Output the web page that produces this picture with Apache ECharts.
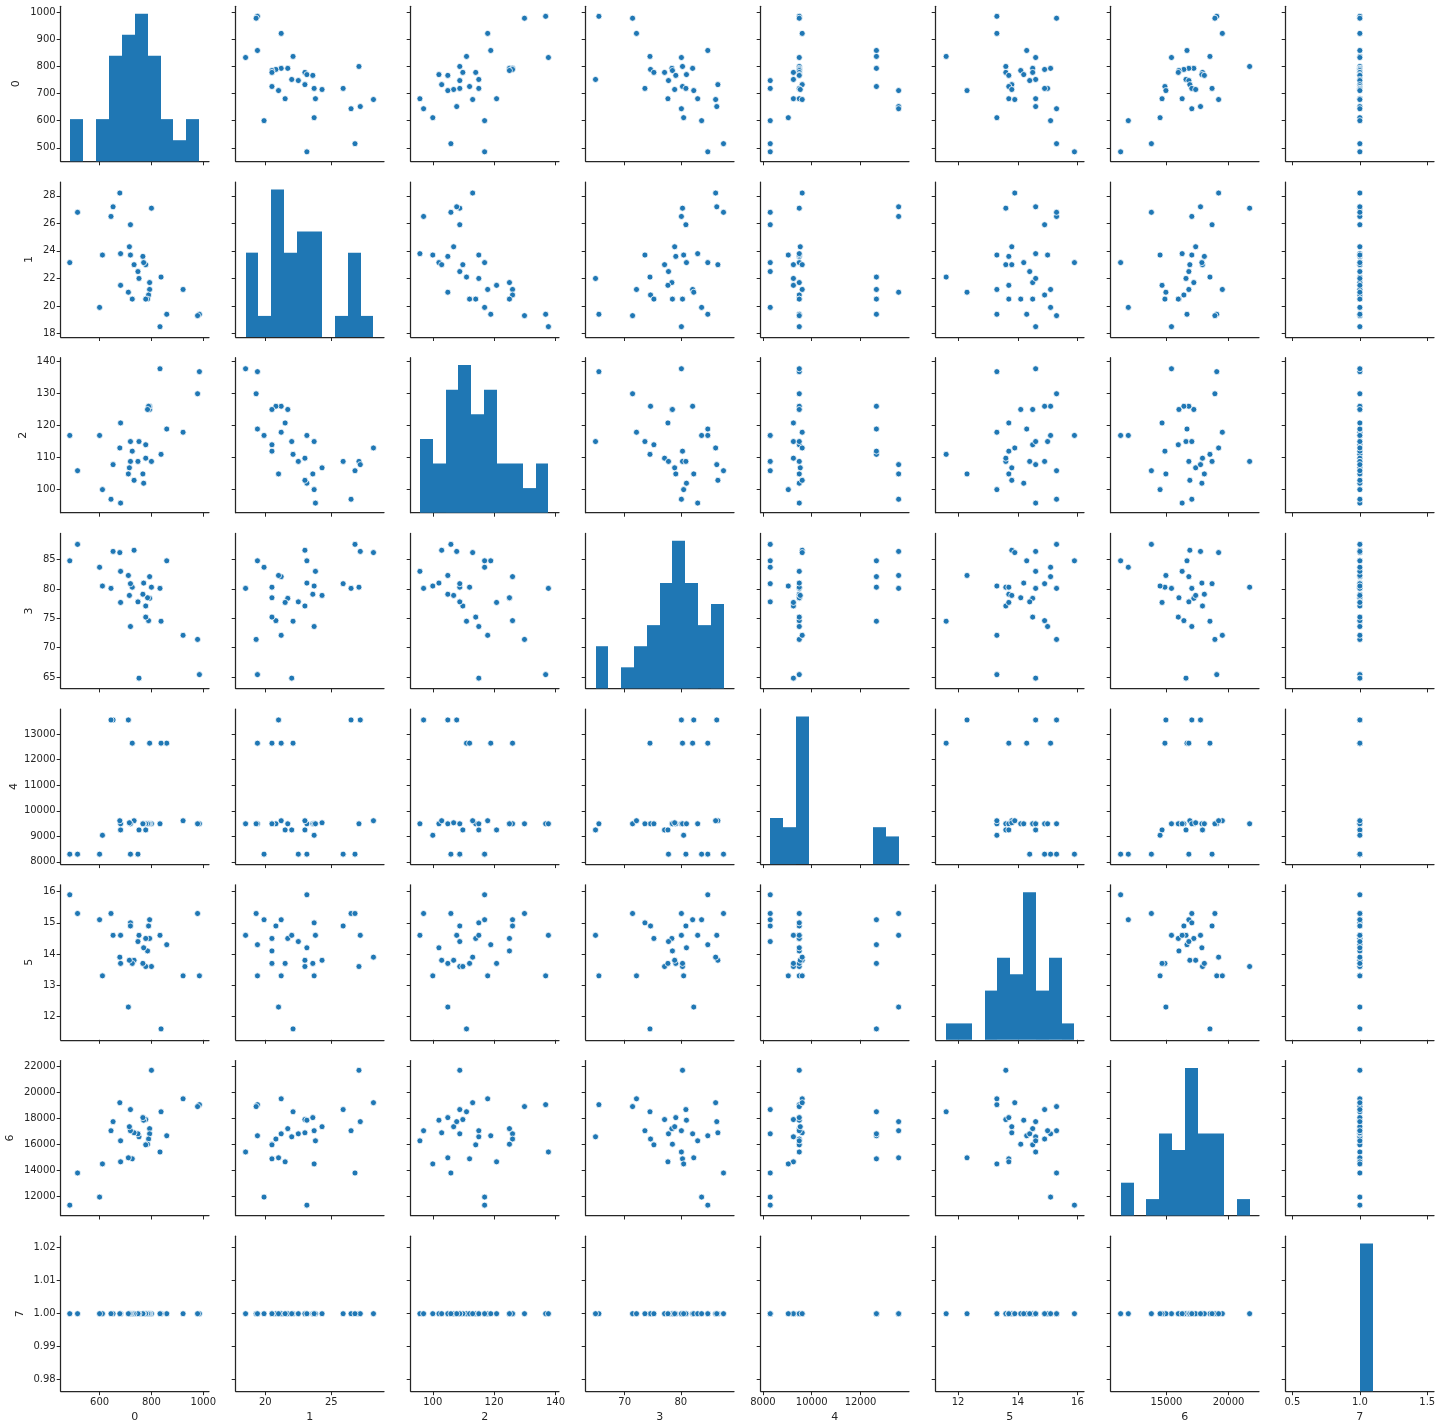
<!DOCTYPE html>
<html>
<head>
<meta charset="utf-8">
<title>pairplot</title>
<script src="https://cdn.jsdelivr.net/npm/echarts@6/dist/echarts.min.js"></script>
<style>
  html, body { margin: 0; padding: 0; background: #fff; }
  #main { width: 1441px; height: 1428px; }
</style>
</head>
<body>
<div id="main"></div>
<script>
'use strict';
// values, one list per variable, same row order in all
var v0 = [985, 978, 922, 859, 837, 833, 800, 793, 793, 789, 785, 778, 778, 770, 767, 752, 748, 733, 726, 719, 719, 715, 711, 681, 681, 678, 652, 644, 611, 600, 515, 485];
var v1 = [19.4, 19.3, 21.2, 19.4, 22.1, 18.5, 27.1, 21.7, 21.2, 20.8, 20.5, 20.5, 23.0, 23.15, 23.6, 22.0, 22.5, 23.0, 20.5, 23.7, 25.9, 24.3, 21.0, 21.5, 23.8, 28.2, 27.2, 26.5, 23.7, 19.9, 26.8, 23.15];
var v2 = [136.8, 129.9, 117.9, 118.9, 111, 137.7, 108.8, 125, 126, 126, 125, 114, 109.8, 102, 104.9, 115, 108.8, 102.9, 112, 115, 108.8, 106.8, 104.9, 120.8, 95.8, 113, 107.8, 97, 100, 116.9, 105.9, 116.9];
var v3 = [65.4, 71.4, 72.1, 84.8, 74.5, 80.1, 80.3, 78.4, 82.1, 74.6, 78.5, 75.2, 77.1, 81, 79.1, 64.8, 77.8, 86.6, 80.3, 73.6, 80.9, 78.9, 82.3, 77.7, 83, 86.2, 86.4, 80.1, 80.5, 83.7, 87.6, 84.8];
var v4 = [9490, 9490, 9610, 12650, 12650, 9490, 9490, 9490, 12650, 9490, 9490, 9490, 9250, 9490, 9490, 9250, 8300, 9610, 12650, 9490, 8300, 9530, 13560, 9250, 9490, 9610, 13560, 13560, 9040, 8300, 8300, 8300];
var v5 = [13.3, 15.3, 13.3, 14.3, 11.6, 14.6, 13.6, 14.5, 15.1, 14.9, 14.1, 14.5, 13.6, 14.2, 13.7, 14.6, 14.4, 13.8, 13.7, 15.0, 14.9, 13.8, 12.3, 13.7, 14.6, 13.9, 14.6, 15.3, 13.3, 15.1, 15.3, 15.9];
var v6 = [19050, 18900, 19500, 16650, 18500, 15400, 21700, 17200, 16800, 16400, 16000, 15950, 17900, 17850, 18050, 16570, 16800, 16880, 14870, 17040, 18670, 17350, 14950, 14640, 16260, 19200, 17740, 17040, 14480, 11920, 13780, 11300];
var v7 = [1, 1, 1, 1, 1, 1, 1, 1, 1, 1, 1, 1, 1, 1, 1, 1, 1, 1, 1, 1, 1, 1, 1, 1, 1, 1, 1, 1, 1, 1, 1, 1];

// bar counts of the diagonal histograms
var h0 = [2, 0, 2, 5, 6, 7, 5, 2, 1, 2];
var h1 = [4, 1, 7, 4, 5, 5, 0, 1, 4, 1];
var h2 = [3, 2, 5, 6, 4, 5, 2, 2, 1, 2];
var h3 = [2, 0, 1, 2, 3, 5, 7, 5, 3, 4];
var h4 = [5, 4, 16, 0, 0, 0, 0, 0, 4, 3];
var h5 = [1, 1, 0, 3, 5, 4, 9, 3, 5, 1];
var h6 = [2, 0, 1, 5, 4, 9, 5, 5, 0, 1];
var h7 = [0, 0, 0, 0, 0, 32, 0, 0, 0, 0];

var names = ['0', '1', '2', '3', '4', '5', '6', '7'];
var xTicks = [
  [600, 800, 1000], [20, 25], [100, 120, 140], [70, 80],
  [8000, 10000, 12000], [12, 14, 16], [15000, 20000], [0.5, 1.0, 1.5]
];
var yTicks = [
  [500, 600, 700, 800, 900, 1000], [18, 20, 22, 24, 26, 28], [100, 110, 120, 130, 140], [65, 70, 75, 80, 85],
  [8000, 9000, 10000, 11000, 12000, 13000], [12, 13, 14, 15, 16], [12000, 14000, 16000, 18000, 20000, 22000],
  [0.98, 0.99, 1.00, 1.01, 1.02]
];
var xLimits = [[450, 1022], [17.75, 29.0], [92.8, 141.15], [63.05, 89.47], [7910, 13985], [11.25, 16.22], [10500, 22455], [0.45, 1.55]];
var yLimits = [[450, 1022], [17.75, 29.0], [92.8, 141.15], [63.05, 89.47], [7910, 13985], [11.25, 16.22], [10500, 22455], [0.9765, 1.0235]];

var columns = [v0, v1, v2, v3, v4, v5, v6, v7];
var counts = [h0, h1, h2, h3, h4, h5, h6, h7];
var n = names.length;

var blue = '#1f77b4';
var ink = '#262626';
var font = 'DejaVu Sans';

// panel layout, in page pixels
var panelLeft = 60.7, panelTop = 6.3, panelW = 148.3, panelH = 155;
var stepX = 175, stepY = 175.7;
// where the left hand variable names sit, per row
var yNameX = [17, 30, 24, 30, 17, 30, 11, 21];

function tickDigits(col, value, isY) {
  if (isY && col === 7) return value.toFixed(2);
  if (!isY && col === 7) return value.toFixed(1);
  return String(value);
}

function lineStyle() {
  return { color: ink, width: 1.25 };
}

function zip(a, b) {
  return a.map(function (x, i) { return [x, b[i]]; });
}

function histBars(col) {
  var values = columns[col];
  var lo = Math.min.apply(null, values);
  var hi = Math.max.apply(null, values);
  if (lo === hi) { lo -= 0.5; hi += 0.5; }
  var w = (hi - lo) / counts[col].length;
  return counts[col].map(function (c, i) {
    return [lo + i * w, lo + (i + 1) * w, c];
  });
}

// bar edges snapped to whole pixels, otherwise seams show between neighbours
function renderBar(params, api) {
  if (!api.value(2)) return null;
  var p0 = api.coord([api.value(0), 0]);
  var p1 = api.coord([api.value(1), api.value(2)]);
  var x0 = Math.round(p0[0]), x1 = Math.round(p1[0]);
  return {
    type: 'rect',
    shape: { x: x0, y: p1[1], width: x1 - x0, height: p0[1] - p1[1] },
    style: { fill: blue }
  };
}

var grids = [], xAxes = [], yAxes = [], series = [];

for (var row = 0; row < n; row++) {
  for (var col = 0; col < n; col++) {
    var idx = grids.length;
    grids.push({
      left: panelLeft + col * stepX,
      top: panelTop + row * stepY,
      width: panelW,
      height: panelH
    });
    xAxes.push({
      type: 'value',
      gridIndex: idx,
      min: xLimits[col][0],
      max: xLimits[col][1],
      name: row === n - 1 ? names[col] : '',
      nameLocation: 'middle',
      nameGap: 20,
      nameTextStyle: { color: ink, fontFamily: font, fontSize: 11 },
      splitLine: { show: false },
      axisLine: { show: true, onZero: false, lineStyle: lineStyle() },
      axisTick: { show: true, length: 4, customValues: xTicks[col], lineStyle: { color: ink, width: 1 } },
      axisLabel: {
        show: row === n - 1,
        margin: 6,
        color: ink,
        fontFamily: font,
        fontSize: 10,
        customValues: xTicks[col],
        formatter: (function (c) {
          return function (value) { return tickDigits(c, value, false); };
        })(col)
      }
    });
    yAxes.push({
      type: 'value',
      gridIndex: idx,
      min: yLimits[row][0],
      max: yLimits[row][1],
      name: col === 0 ? names[row] : '',
      nameLocation: 'middle',
      nameRotate: 90,
      nameGap: panelLeft - yNameX[row] - 5,
      nameTextStyle: { color: ink, fontFamily: font, fontSize: 11 },
      splitLine: { show: false },
      axisLine: { show: true, onZero: false, lineStyle: lineStyle() },
      axisTick: { show: true, length: 4, customValues: yTicks[row], lineStyle: { color: ink, width: 1 } },
      axisLabel: {
        show: col === 0,
        margin: 5,
        color: ink,
        fontFamily: font,
        fontSize: 10,
        customValues: yTicks[row],
        formatter: (function (r) {
          return function (value) { return tickDigits(r, value, true); };
        })(row)
      }
    });

    if (row !== col) {
      series.push({
        type: 'scatter',
        xAxisIndex: idx,
        yAxisIndex: idx,
        data: zip(columns[col], columns[row]),
        symbolSize: 6,
        itemStyle: { color: blue, borderColor: '#fff', borderWidth: 0.8, opacity: 1 },
        silent: true
      });
    }
  }
}

// the histograms get their own hidden count axis on top of the shown one
for (var d = 0; d < n; d++) {
  var panel = d * n + d;
  var tallest = Math.max.apply(null, counts[d]);
  yAxes.push({
    type: 'value',
    gridIndex: panel,
    min: 0,
    max: tallest * 1.05,
    show: false,
    splitLine: { show: false }
  });
  series.push({
    type: 'custom',
    xAxisIndex: panel,
    yAxisIndex: yAxes.length - 1,
    data: histBars(d),
    renderItem: renderBar,
    encode: { x: [0, 1], y: 2 },
    silent: true
  });
}

var myChart = echarts.init(document.getElementById('main'), null, { renderer: 'canvas' });
myChart.setOption({
  animation: false,
  backgroundColor: '#fff',
  grid: grids,
  xAxis: xAxes,
  yAxis: yAxes,
  series: series
});
</script>
</body>
</html>
